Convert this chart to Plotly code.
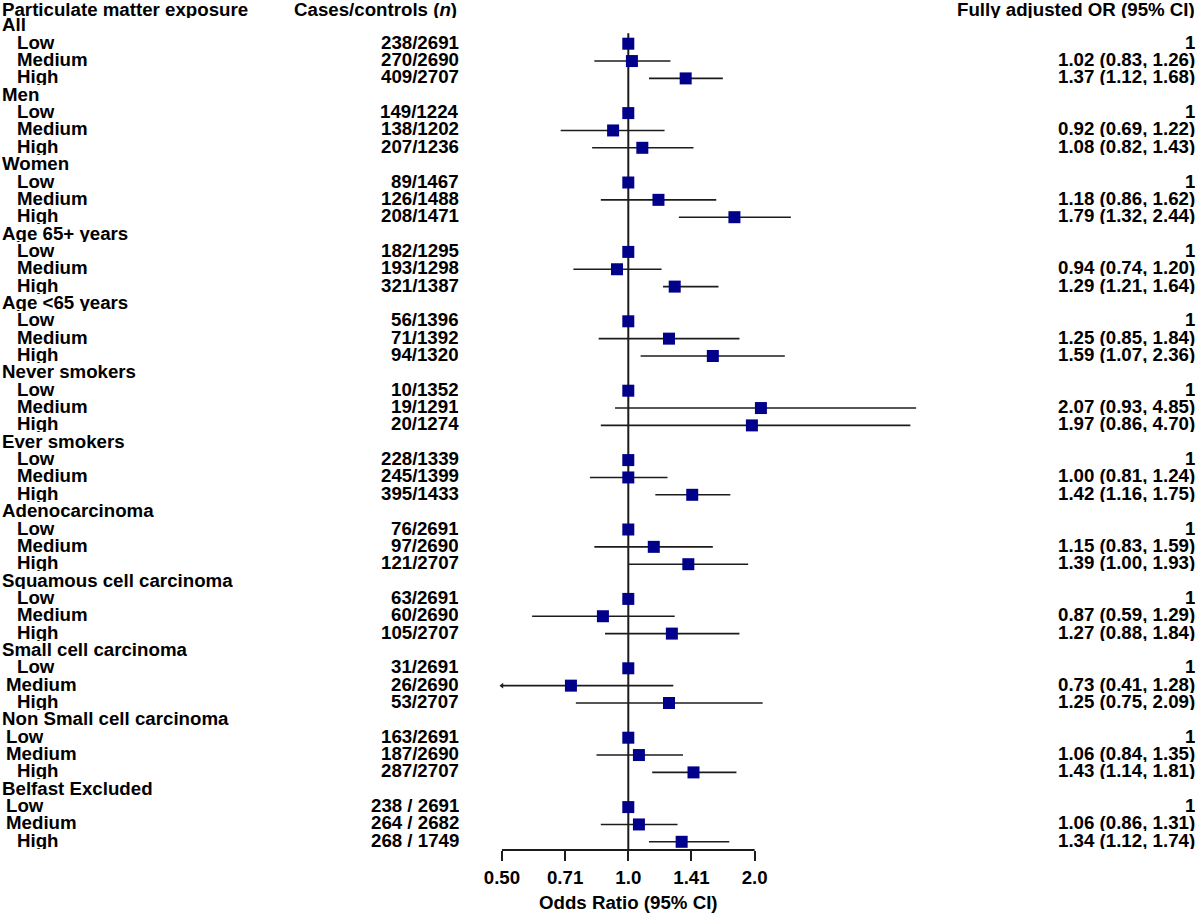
import math
import plotly.graph_objects as go

# ---------------- data ----------------
header_left = "Particulate matter exposure"
header_mid = "Cases/controls (<i>n</i>)"
header_right = "Fully adjusted OR (95% CI)"
x_title = "Odds Ratio (95% CI)"

groups = ["All", "Men", "Women", "Age 65+ years", "Age <65 years", "Never smokers",
          "Ever smokers", "Adenocarcinoma", "Squamous cell carcinoma",
          "Small cell carcinoma", "Non Small cell carcinoma", "Belfast Excluded"]

# leading spaces reproduce the original label indentation
level_labels = [
    "  Low", "  Medium", "  High",
    "  Low", "  Medium", "  High",
    "  Low", "  Medium", "  High",
    "  Low", "  Medium", "  High",
    "  Low", "  Medium", "  High",
    "  Low", "  Medium", "  High",
    "  Low", "  Medium", "  High",
    "  Low", "  Medium", "  High",
    "  Low", "  Medium", "  High",
    "  Low", " Medium", "  High",
    " Low", " Medium", "  High",
    " Low", " Medium", "  High",
]

cases_controls = [
    "238/2691", "270/2690", "409/2707",
    "149/1224", "138/1202", "207/1236",
    "89/1467", "126/1488", "208/1471",
    "182/1295", "193/1298", "321/1387",
    "56/1396", "71/1392", "94/1320",
    "10/1352", "19/1291", "20/1274",
    "228/1339", "245/1399", "395/1433",
    "76/2691", "97/2690", "121/2707",
    "63/2691", "60/2690", "105/2707",
    "31/2691", "26/2690", "53/2707",
    "163/2691", "187/2690", "287/2707",
    "238 / 2691", "264 / 2682", "268 / 1749",
]

or_est = [1, 1.02, 1.37,
          1, 0.92, 1.08,
          1, 1.18, 1.79,
          1, 0.94, 1.29,
          1, 1.25, 1.59,
          1, 2.07, 1.97,
          1, 1.00, 1.42,
          1, 1.15, 1.39,
          1, 0.87, 1.27,
          1, 0.73, 1.25,
          1, 1.06, 1.43,
          1, 1.06, 1.34]

ci_low = [None, 0.83, 1.12,
          None, 0.69, 0.82,
          None, 0.86, 1.32,
          None, 0.74, 1.21,
          None, 0.85, 1.07,
          None, 0.93, 0.86,
          None, 0.81, 1.16,
          None, 0.83, 1.00,
          None, 0.59, 0.88,
          None, 0.41, 0.75,
          None, 0.84, 1.14,
          None, 0.86, 1.12]

ci_high = [None, 1.26, 1.68,
           None, 1.22, 1.43,
           None, 1.62, 2.44,
           None, 1.20, 1.64,
           None, 1.84, 2.36,
           None, 4.85, 4.70,
           None, 1.24, 1.75,
           None, 1.59, 1.93,
           None, 1.29, 1.84,
           None, 1.28, 2.09,
           None, 1.35, 1.81,
           None, 1.31, 1.74]

tick_vals = [0.5, 0.7071, 1.0, 1.4142, 2.0]
tick_text = ["0.50", "0.71", "1.0", "1.41", "2.0"]

# ---------------- layout constants ----------------
W, H = 1200, 914
ROW0_PX = 9.0        # centre of header row
ROW_PX = 17.35       # row pitch
AXIS_PX = 850.0      # y pixel of the x axis line
ONE_PX = 628.3       # x pixel of OR = 1
PX_PER_LOG2 = 126.35
AXIS_MIN, AXIS_MAX = tick_vals[0], tick_vals[-1]
FONT = "Liberation Sans, Arial, Helvetica, sans-serif"
FS = 18.7
INDENT_PX = {0: 1, 1: 5, 2: 16}
CASES_RIGHT_PX = 460
OR_RIGHT_PX = 1196
TEXT_YSHIFT = 1.5
BOX_H = 17
MARKER_COLOR = "#00008B"
LINE_COLOR = "#1c1c1c"

L2 = math.log10(2)
x_range = [-(ONE_PX / PX_PER_LOG2) * L2, ((W - ONE_PX) / PX_PER_LOG2) * L2]
y_bottom = (AXIS_PX - ROW0_PX) / ROW_PX
y_top = -ROW0_PX / ROW_PX

# ---------------- rows ----------------
row_y = []          # y index of each level row
group_y = []
r = 1
for g in groups:
    group_y.append(r)
    row_y.extend([r + 1, r + 2, r + 3])
    r += 4

fig = go.Figure()

# CI lines
lx, ly = [], []
arrow_x, arrow_y = [], []
for yv, lo, hi in zip(row_y, ci_low, ci_high):
    if lo is None:
        continue
    lo_c = max(lo, AXIS_MIN)
    lx += [lo_c, hi, None]
    ly += [yv, yv, None]
    if lo < AXIS_MIN:
        arrow_x.append(AXIS_MIN)
        arrow_y.append(yv)

fig.add_trace(go.Scatter(x=lx, y=ly, mode="lines",
                         line=dict(color=LINE_COLOR, width=1.6),
                         hoverinfo="skip", showlegend=False))
fig.add_trace(go.Scatter(x=arrow_x, y=arrow_y, mode="markers",
                         marker=dict(symbol="triangle-left", size=5, color=LINE_COLOR),
                         hoverinfo="skip", showlegend=False, cliponaxis=False))
fig.add_trace(go.Scatter(x=or_est, y=row_y, mode="markers",
                         marker=dict(symbol="square", size=12, color=MARKER_COLOR,
                                     line=dict(width=0)),
                         showlegend=False, cliponaxis=False))

# reference line at OR = 1 and axis line
fig.add_shape(type="line", xref="x", yref="y", x0=1, x1=1, y0=group_y[0] + 0.4, y1=y_bottom,
              line=dict(color=LINE_COLOR, width=2), layer="below")
fig.add_shape(type="line", xref="x", yref="paper", x0=AXIS_MIN, x1=AXIS_MAX, y0=0, y1=0,
              line=dict(color=LINE_COLOR, width=2))

font = dict(family=FONT, size=FS, color="black", weight="bold")


def esc(s):
    return s.replace("<", "&lt;") if "<i>" not in s else s


def add_text(text, px, yv, anchor):
    fig.add_annotation(text=esc(text), xref="paper", x=px / W, yref="y", y=yv,
                       xanchor=anchor, yanchor="middle", showarrow=False, font=font,
                       borderpad=0, height=BOX_H, yshift=TEXT_YSHIFT)


def add_header(text, px, anchor):
    fig.add_annotation(text=esc(text), xref="paper", x=px / W, yref="paper", y=1,
                       xanchor=anchor, yanchor="top", showarrow=False, font=font,
                       borderpad=0, height=BOX_H)


# header
add_header(header_left, 1, "left")
add_header(header_mid, CASES_RIGHT_PX - 2, "right")
add_header(header_right, OR_RIGHT_PX, "right")

for g, yv in zip(groups, group_y):
    add_text(g, INDENT_PX[0], yv, "left")

for lab, cc, est, lo, hi, yv in zip(level_labels, cases_controls, or_est, ci_low, ci_high, row_y):
    n_sp = len(lab) - len(lab.lstrip(" "))
    add_text(lab.strip(), INDENT_PX[n_sp], yv, "left")
    add_text(cc, CASES_RIGHT_PX, yv, "right")
    if lo is None:
        txt = f"{est:g}"
    else:
        txt = f"{est:.2f} ({lo:.2f}, {hi:.2f})"
    add_text(txt, OR_RIGHT_PX, yv, "right")

# axis title
fig.add_annotation(text=x_title, xref="x", x=0, yref="paper", y=0, yshift=-(902 - AXIS_PX),
                   xanchor="center", yanchor="middle", showarrow=False, font=font)

fig.update_layout(
    width=W, height=H,
    margin=dict(l=0, r=0, t=0, b=H - AXIS_PX, pad=0),
    paper_bgcolor="white", plot_bgcolor="white",
    xaxis=dict(type="log", range=x_range, showgrid=False, zeroline=False, showline=False,
               ticks="outside", ticklen=10, tickwidth=2, tickcolor=LINE_COLOR,
               tickvals=tick_vals, ticktext=tick_text, tickfont=font,
               ticklabelstandoff=1, fixedrange=True),
    yaxis=dict(range=[y_bottom, y_top], visible=False, fixedrange=True),
    showlegend=False,
)

fig.write_html("out.html", config={"displayModeBar": False},
               post_script="document.body.style.margin='0px';document.body.style.overflow='hidden';")
